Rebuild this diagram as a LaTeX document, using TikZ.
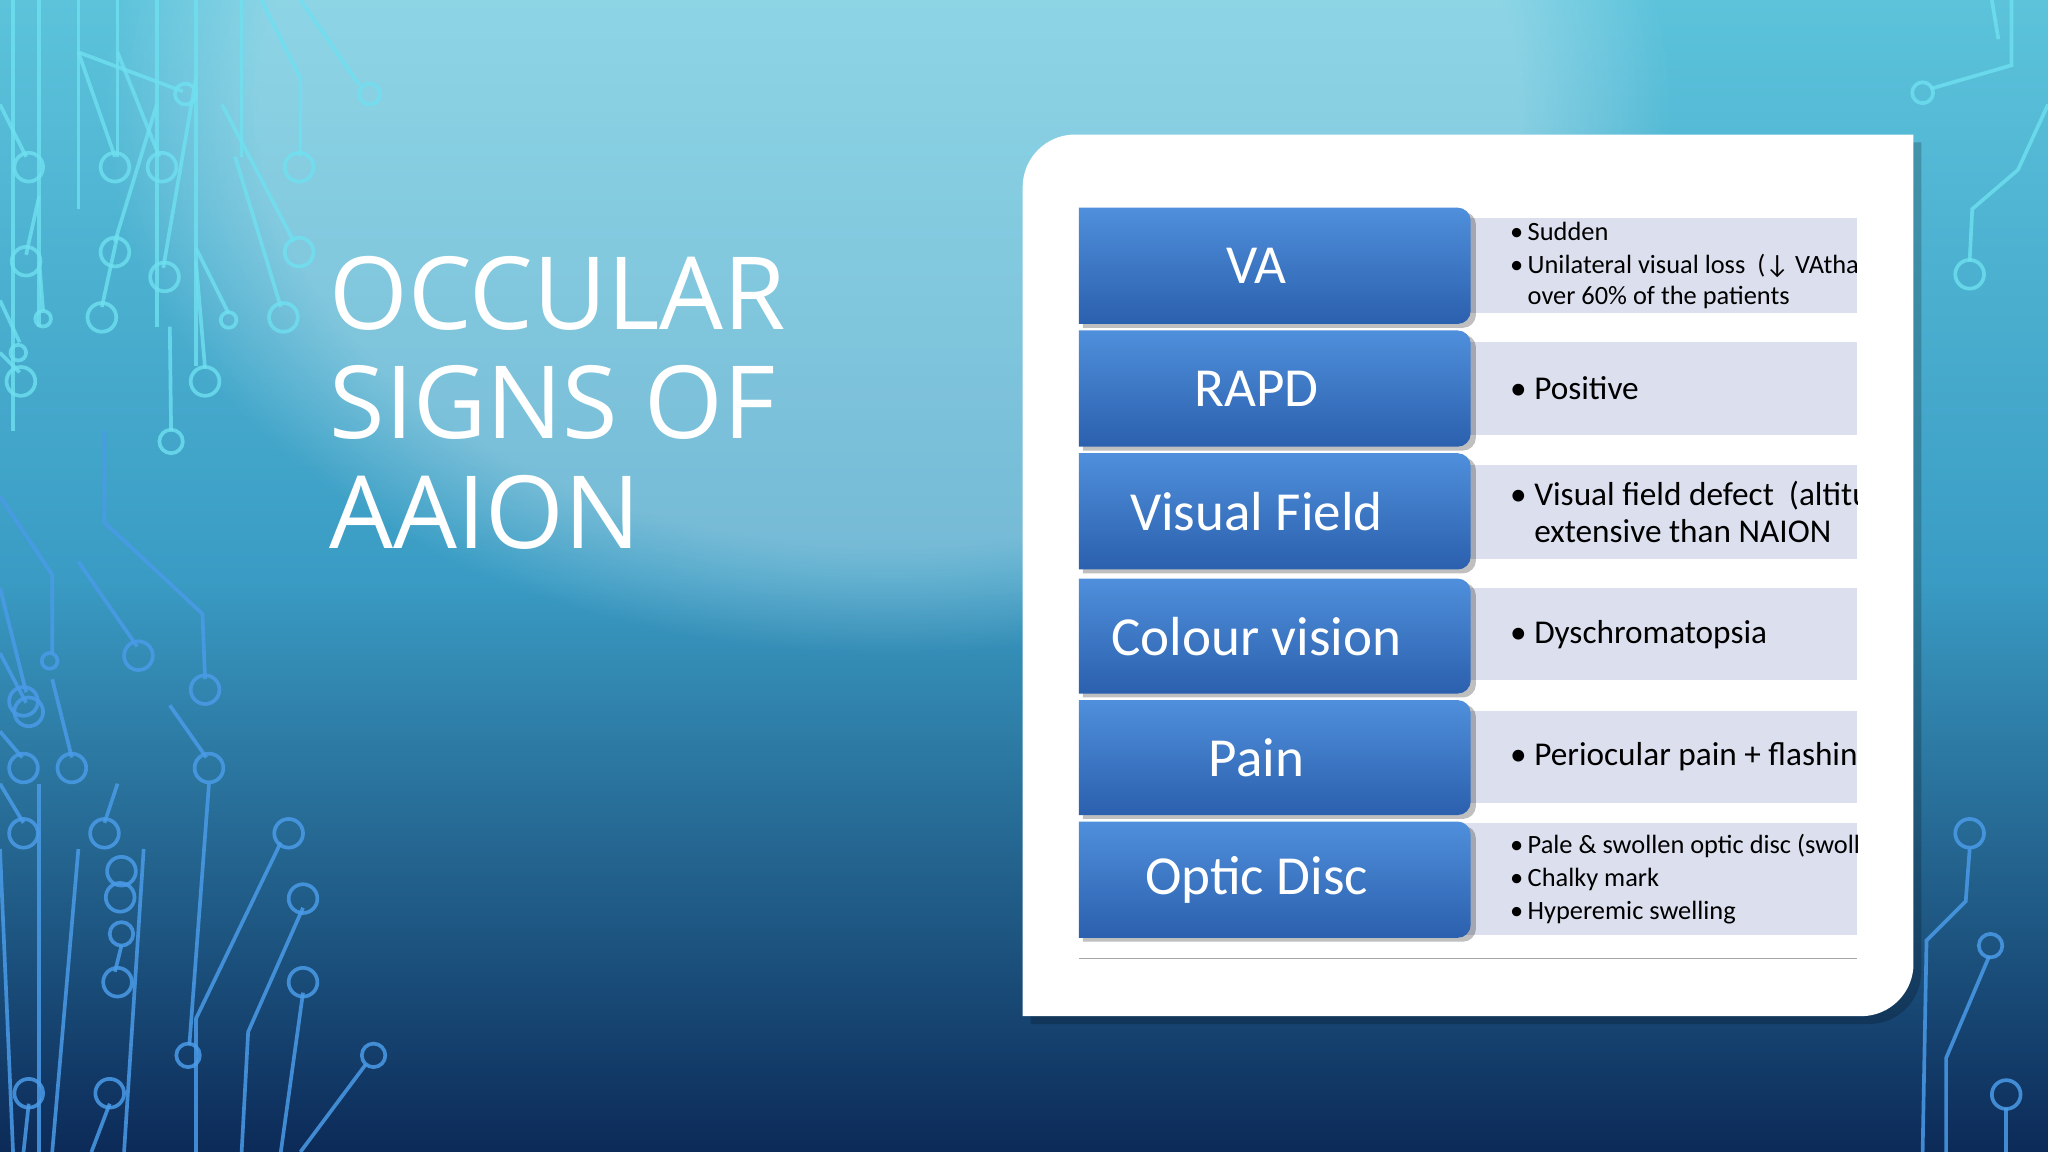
\documentclass[tikz,border=0pt]{standalone}
\usepackage{fontspec}
\setmainfont{Carlito}
\newfontfamily\titlefont{Open Sans}
\usetikzlibrary{fadings}
\definecolor{circ}{HTML}{6FE0F0}
\definecolor{circb}{HTML}{4A9BE8}
\definecolor{boxtop}{HTML}{4F8FDB}
\definecolor{boxbot}{HTML}{2B60AE}
\definecolor{greybox}{HTML}{DCE0EE}
\definecolor{bgtop}{HTML}{5CC3DB}
\definecolor{bgmid}{HTML}{3A9CC4}
\definecolor{bgbot}{HTML}{0C2A58}
\tikzset{
  lbl/.style={text=white,font=\fontsize{24}{27}\selectfont},
  bul/.style={anchor=west,text=black,font=\fontsize{14.5}{16.5}\selectfont,align=left},
  sbul/.style={anchor=west,text=black,font=\fontsize{11.5}{13.5}\selectfont,align=left},
  trace/.style={line width=1.6pt,circ,opacity=0.8},
  traceb/.style={line width=1.6pt,circb,opacity=0.85},
  pad/.style={line width=1.6pt,circ,opacity=0.8},
  padb/.style={line width=1.6pt,circb,opacity=0.85}
}
\begin{document}
\begin{tikzpicture}[x=0.02cm,y=-0.02cm]
\useasboundingbox (0,0) rectangle (1568,882);
% background
\shade[top color=bgtop, bottom color=bgbot, middle color=bgmid] (0,0) rectangle (1568,882);
\begin{scope}
\clip (0,0) rectangle (1568,882);
\fill[white,opacity=0.3,path fading=circle with fuzzy edge 20 percent] (680,80) ellipse (600 and 420);
\end{scope}
% circuits left
\foreach \x/\ya/\yb in {10/0/330, 30/0/250, 60/0/160, 90/0/120, 120/0/250, 150/0/280, 185/0/120}{
  \draw[trace] (\x,\ya) -- (\x,\yb);}
\draw[trace] (60,40) -- (140,70); \draw[pad] (142,72) circle (8);
\draw[trace] (230,0) -- (275,65); \draw[pad] (283,72) circle (8);
\draw[trace] (200,0) -- (230,60) -- (230,120); \draw[pad] (229,128) circle (11);
\draw[trace] (90,40) -- (122,120); \draw[pad] (124,128) circle (11);
\draw[trace] (0,80) -- (20,120); \draw[pad] (22,128) circle (11);
\draw[trace] (60,40) -- (88,120); \draw[pad] (88,128) circle (11);
\draw[trace] (120,80) -- (88,185); \draw[pad] (88,193) circle (11);
\draw[trace] (150,60) -- (125,205); \draw[pad] (126,212) circle (11);
\draw[trace] (170,80) -- (225,185); \draw[pad] (229,193) circle (11);
\draw[trace] (180,120) -- (215,235); \draw[pad] (217,243) circle (11);
\draw[trace] (150,190) -- (175,240); \draw[pad] (175,245) circle (6);
\draw[trace] (30,150) -- (20,195); \draw[pad] (20,200) circle (11);
\draw[trace] (90,180) -- (78,235); \draw[pad] (78,243) circle (11);
\draw[trace] (30,200) -- (33,238); \draw[pad] (33,244) circle (6);
\draw[trace] (0,230) -- (15,262); \draw[pad] (14,270) circle (6);
\draw[trace] (0,270) -- (15,285); \draw[pad] (16,292) circle (11);
\draw[trace] (150,200) -- (157,282); \draw[pad] (157,292) circle (11);
\draw[trace] (130,250) -- (131,330); \draw[pad] (131,338) circle (9);
\draw[traceb] (80,330) -- (80,400) -- (155,470) -- (157,520); \draw[padb] (157,528) circle (11);
\draw[traceb] (0,380) -- (40,440) -- (40,500); \draw[padb] (38,506) circle (6);
\draw[traceb] (0,450) -- (20,530); \draw[padb] (18,537) circle (11);
\draw[traceb] (60,430) -- (105,495); \draw[padb] (106,502) circle (11);
\draw[traceb] (0,500) -- (20,538); \draw[padb] (22,545) circle (11);
\draw[traceb] (40,520) -- (55,580); \draw[padb] (55,588) circle (11);
\draw[traceb] (0,560) -- (17,580); \draw[padb] (18,588) circle (11);
\draw[traceb] (130,540) -- (158,580); \draw[padb] (160,588) circle (11);
\draw[traceb] (30,600) -- (30,882); \draw[traceb] (60,650) -- (40,882);
\draw[traceb] (160,600) -- (145,800); \draw[padb] (144,808) circle (9);
\draw[traceb] (0,600) -- (18,630); \draw[padb] (18,638) circle (11);
\draw[traceb] (90,600) -- (80,630); \draw[padb] (80,638) circle (11);
\draw[traceb] (215,645) -- (150,780) -- (150,882); \draw[padb] (221,638) circle (11);
\draw[traceb] (232,695) -- (190,790) -- (185,882); \draw[padb] (232,688) circle (11);
\draw[padb] (93,667) circle (11);
\draw[padb] (92,687) circle (11); \draw[padb] (93,715) circle (9);
\draw[traceb] (93,724) -- (88,744); \draw[padb] (90,752) circle (11);
\draw[traceb] (232,760) -- (215,882); \draw[padb] (232,752) circle (11);
\draw[traceb] (0,650) -- (10,882); \draw[traceb] (110,650) -- (95,882);
\draw[traceb] (84,845) -- (70,882); \draw[padb] (84,837) circle (11);
\draw[traceb] (22,845) -- (18,882); \draw[padb] (22,837) circle (11);
\draw[traceb] (280,815) -- (230,882); \draw[padb] (286,808) circle (9);
% right circuits
\draw[trace] (1540,0) -- (1540,50) -- (1478,68); \draw[pad] (1472,71) circle (8);
\draw[trace] (1568,80) -- (1545,130) -- (1510,160) -- (1508,200); \draw[pad] (1508,210) circle (11);
\draw[trace] (1525,0) -- (1530,30);
\draw[traceb] (1508,650) -- (1505,690) -- (1475,720) -- (1472,882); \draw[padb] (1508,638) circle (11);
\draw[traceb] (1523,732) -- (1490,810) -- (1490,882); \draw[padb] (1524,724) circle (9);
\draw[traceb] (1536,848) -- (1536,882); \draw[padb] (1536,838) circle (11);
% title
\node[anchor=south west,text=white,font=\titlefont\fontsize{44}{48}\selectfont,inner sep=0] at (252,253) {OCCULAR};
\node[anchor=south west,text=white,font=\titlefont\fontsize{44}{48}\selectfont,inner sep=0] at (252,337) {SIGNS OF};
\node[anchor=south west,text=white,font=\titlefont\fontsize{44}{48}\selectfont,inner sep=0] at (252,421) {AAION};
% card
\fill[black,opacity=0.2] (789,149) .. controls (789,127) and (807,109) .. (829,109) -- (1471,109) -- (1471,744) .. controls (1471,766) and (1453,784) .. (1431,784) -- (789,784) -- cycle;
\fill[white] (783,143) .. controls (783,121) and (801,103) .. (823,103) -- (1465,103) -- (1465,738) .. controls (1465,760) and (1447,778) .. (1425,778) -- (783,778) -- cycle;
\draw[gray!70,line width=0.6pt] (826,734) -- (1422,734);
\begin{scope}
\clip (820,150) rectangle (1422,730);
\foreach \n/\ya/\yb/\ga/\gb in {a/159/248/167/240, b/253/342/262/333, c/347/436/356/428, d/443/531/450/521, e/536/624/544/615, f/629/718/630/716}{
  \fill[greybox] (1120,\ga) rectangle (1422,\gb);
  \fill[black,opacity=0.25] (829,\ya+3) -- (1120,\ya+3) to[out=0,in=90] (1130,\ya+13) -- (1130,\yb-7) to[out=-90,in=0] (1120,\yb+3) -- (829,\yb+3) -- cycle;
  \shade[top color=boxtop,bottom color=boxbot] (826,\ya) -- (1116,\ya) to[out=0,in=90] (1126,\ya+10) -- (1126,\yb-10) to[out=-90,in=0] (1116,\yb) -- (826,\yb) -- cycle;
  \coordinate (L\n) at (962,{(\ya+\yb)/2});
  \coordinate (R\n) at (1150,{(\ga+\gb)/2});
}
\node[lbl] (va) at (La) {VA};
\node[lbl] (rapd) at (Lb) {RAPD};
\node[lbl] (vf) at (Lc) {Visual Field};
\node[lbl] (cv) at (Ld) {Colour vision};
\node[lbl] (pain) at (Le) {Pain};
\node[lbl] (od) at (Lf) {Optic Disc};
\node[sbul] (tva) at (Ra) {\textbullet\,Sudden\\[1pt]\textbullet\,Unilateral visual loss\ \ (↓ VAthat\\\hphantom{\textbullet\,}over 60\% of the patients};
\node[bul] (trapd) at (Rb) {\textbullet\ Positive};
\node[bul] (tvf) at (Rc) {\textbullet\ Visual field defect\ \ (altitudinal, more\\\hphantom{\textbullet\ }extensive than NAION};
\node[bul] (tcv) at (Rd) {\textbullet\ Dyschromatopsia};
\node[bul] (tpain) at (Re) {\textbullet\ Periocular pain + flashing};
\node[sbul] (tod) at (Rf) {\textbullet\,Pale \& swollen optic disc (swollen\\[1pt]\textbullet\,Chalky mark\\[1pt]\textbullet\,Hyperemic swelling};
\end{scope}
\end{tikzpicture}
\end{document}
